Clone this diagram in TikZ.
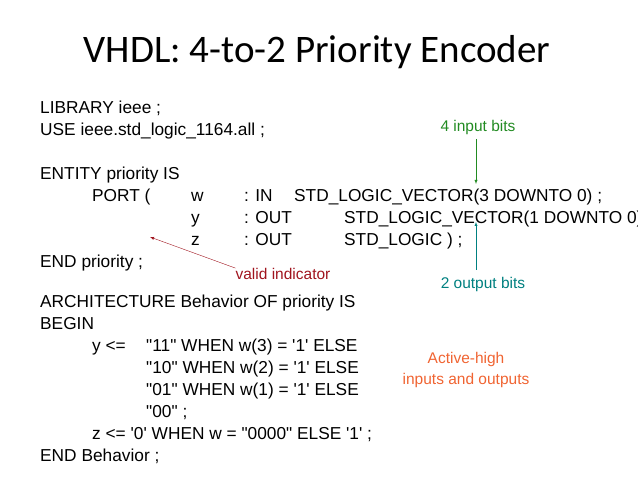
\documentclass[tikz,border=0pt]{standalone}
\usepackage{fontspec}
\setmainfont{Liberation Sans}[Ligatures=TeXOff]
\newfontfamily\titlefont{Carlito}
\definecolor{grn}{RGB}{34,139,34}
\definecolor{tl}{RGB}{0,128,128}
\definecolor{drd}{RGB}{160,20,30}
\definecolor{org}{RGB}{240,100,50}
\begin{document}
\begin{tikzpicture}[x=1pt,y=-1pt,
  code/.style={anchor=base west,inner sep=0pt,font=\fontsize{17.3}{18}\selectfont},
  note/.style={inner sep=0pt,font=\fontsize{15.5}{17}\selectfont,align=center}]
\useasboundingbox (0,0) rectangle (638,478);
\clip (0,0) rectangle (638,478);
\node[inner sep=0pt,font=\titlefont\fontsize{39}{42}\selectfont] (title) at (317,52) {VHDL: 4-to-2 Priority Encoder};
\node[code] (l1) at (40,114) {LIBRARY ieee ;};
\node[code] (l2) at (40,136) {USE ieee.std\_logic\_1164.all ;};
\node[code] (l3) at (40,180) {ENTITY priority IS};
\node[code] (l4a) at (92,202) {PORT (};
\node[code] (l4b) at (191,202) {w};
\node[code] (l4c) at (244,202) {: IN};
\node[code] (l4d) at (294,202) {STD\_LOGIC\_VECTOR(3 DOWNTO 0) ;};
\node[code] (l5b) at (191,224) {y};
\node[code] (l5c) at (244,224) {: OUT};
\node[code] (l5d) at (344,224) {STD\_LOGIC\_VECTOR(1 DOWNTO 0) ;};
\node[code] (l6b) at (191,246) {z};
\node[code] (l6c) at (244,246) {: OUT};
\node[code] (l6d) at (344,246) {STD\_LOGIC ) ;};
\node[code] (l7) at (40,268) {END priority ;};
\node[code] (l8) at (40,308) {ARCHITECTURE Behavior OF priority IS};
\node[code] (l9) at (40,330) {BEGIN};
\node[code] (l10a) at (92,352) {y <=};
\node[code] (l10b) at (146,352) {"11" WHEN w(3) = '1' ELSE};
\node[code] (l11) at (146,374) {"10" WHEN w(2) = '1' ELSE};
\node[code] (l12) at (146,396) {"01" WHEN w(1) = '1' ELSE};
\node[code] (l13) at (146,418) {"00" ;};
\node[code] (l14) at (92,440) {z <= '0' WHEN w = "0000" ELSE '1' ;};
\node[code] (l15) at (40,462) {END Behavior ;};
\node[note,text=grn] (inb) at (478,127) {4 input bits};
\node[note,text=tl] (outb) at (483,284) {2 output bits};
\node[note,text=drd] (valid) at (283,274) {valid indicator};
\node[note,text=org,font=\fontsize{15.5}{21}\selectfont] (act) at (466,370) {Active-high\\inputs and outputs};
\coordinate (inT) at (476,184);
\coordinate (outT) at (476,222);
\coordinate (vT) at (150,237);
\draw[grn,-latex] (476,139) -- (inT);
\draw[tl,-latex] (476,270) -- (outT);
\draw[drd,-latex] (valid.north west) -- (vT);
\end{tikzpicture}
\end{document}
